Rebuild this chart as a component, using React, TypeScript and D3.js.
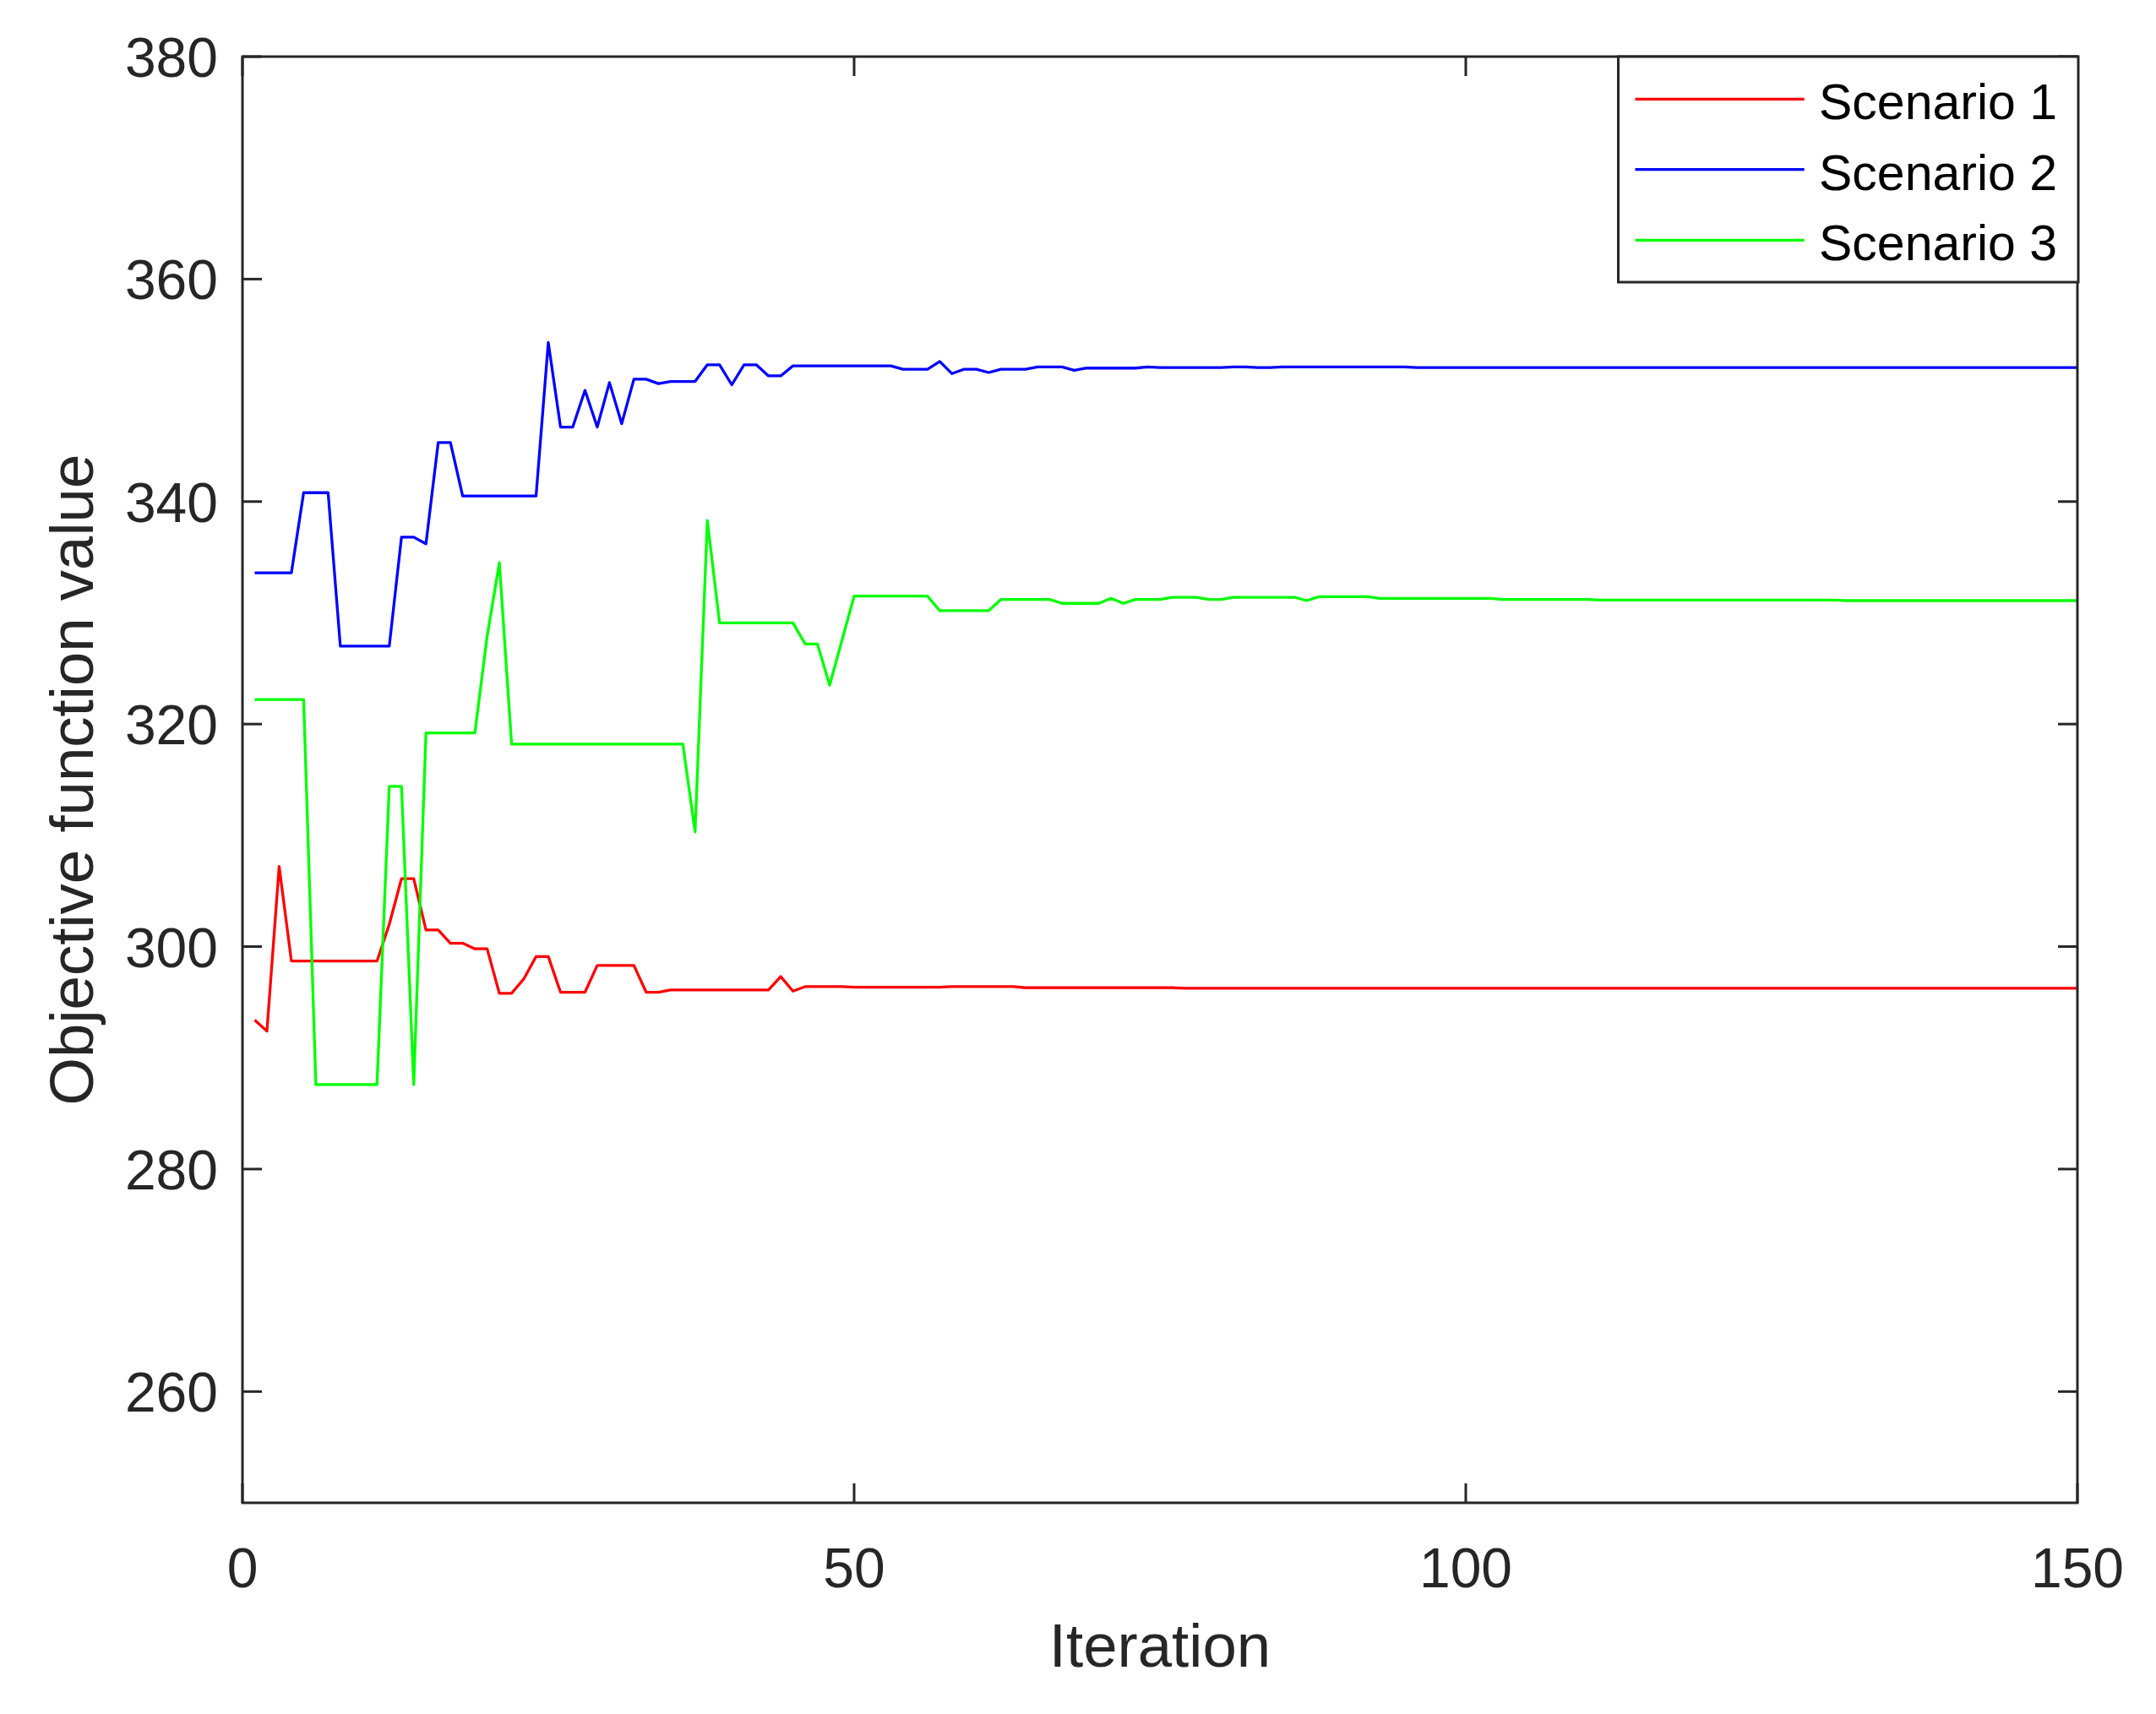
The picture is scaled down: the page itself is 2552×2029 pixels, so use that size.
import React, { useEffect } from "react";
import * as d3 from "d3";

// iterations 1..150
const scenario1 = [
  293.4, 292.4, 307.2, 298.7, 298.7, 298.7, 298.7, 298.7, 298.7, 298.7,
  298.7, 302.0, 306.1, 306.1, 301.5, 301.5, 300.3, 300.3, 299.8, 299.8,
  295.8, 295.8, 297.1, 299.1, 299.1, 295.9, 295.9, 295.9, 298.3, 298.3,
  298.3, 298.3, 295.9, 295.9, 296.1, 296.1, 296.1, 296.1, 296.1, 296.1,
  296.1, 296.1, 296.1, 297.3, 296.0, 296.4, 296.4, 296.4, 296.4, 296.35,
  296.35, 296.35, 296.35, 296.35, 296.35, 296.35, 296.35, 296.4, 296.4, 296.4,
  296.4, 296.4, 296.4, 296.3, 296.3, 296.3, 296.3, 296.3, 296.3, 296.3,
  296.3, 296.3, 296.3, 296.3, 296.3, 296.3, 296.25, 296.25, 296.25, 296.25,
  296.25, 296.25, 296.25, 296.25, 296.25, 296.25, 296.25, 296.25, 296.25, 296.25,
  296.25, 296.25, 296.25, 296.25, 296.25, 296.25, 296.25, 296.25, 296.25, 296.25,
  296.25, 296.25, 296.25, 296.25, 296.25, 296.25, 296.25, 296.25, 296.25, 296.25,
  296.25, 296.25, 296.25, 296.25, 296.25, 296.25, 296.25, 296.25, 296.25, 296.25,
  296.25, 296.25, 296.25, 296.25, 296.25, 296.25, 296.25, 296.25, 296.25, 296.25,
  296.25, 296.25, 296.25, 296.25, 296.25, 296.25, 296.25, 296.25, 296.25, 296.25,
  296.25, 296.25, 296.25, 296.25, 296.25, 296.25, 296.25, 296.25, 296.25, 296.25,
];

const scenario2 = [
  333.6, 333.6, 333.6, 333.6, 340.8, 340.8, 340.8, 327.0, 327.0, 327.0,
  327.0, 327.0, 336.8, 336.8, 336.2, 345.3, 345.3, 340.5, 340.5, 340.5,
  340.5, 340.5, 340.5, 340.5, 354.3, 346.7, 346.7, 350.0, 346.7, 350.7,
  347.0, 351.0, 351.0, 350.6, 350.8, 350.8, 350.8, 352.3, 352.3, 350.5,
  352.3, 352.3, 351.3, 351.3, 352.2, 352.2, 352.2, 352.2, 352.2, 352.2,
  352.2, 352.2, 352.2, 351.9, 351.9, 351.9, 352.6, 351.5, 351.9, 351.9,
  351.6, 351.9, 351.9, 351.9, 352.1, 352.1, 352.1, 351.8, 352.0, 352.0,
  352.0, 352.0, 352.0, 352.1, 352.05, 352.05, 352.05, 352.05, 352.05, 352.05,
  352.1, 352.1, 352.05, 352.05, 352.1, 352.1, 352.1, 352.1, 352.1, 352.1,
  352.1, 352.1, 352.1, 352.1, 352.1, 352.05, 352.05, 352.05, 352.05, 352.05,
  352.05, 352.05, 352.05, 352.05, 352.05, 352.05, 352.05, 352.05, 352.05, 352.05,
  352.05, 352.05, 352.05, 352.05, 352.05, 352.05, 352.05, 352.05, 352.05, 352.05,
  352.05, 352.05, 352.05, 352.05, 352.05, 352.05, 352.05, 352.05, 352.05, 352.05,
  352.05, 352.05, 352.05, 352.05, 352.05, 352.05, 352.05, 352.05, 352.05, 352.05,
  352.05, 352.05, 352.05, 352.05, 352.05, 352.05, 352.05, 352.05, 352.05, 352.05,
];

const scenario3 = [
  322.2, 322.2, 322.2, 322.2, 322.2, 287.6, 287.6, 287.6, 287.6, 287.6,
  287.6, 314.4, 314.4, 287.6, 319.2, 319.2, 319.2, 319.2, 319.2, 327.9,
  334.5, 318.2, 318.2, 318.2, 318.2, 318.2, 318.2, 318.2, 318.2, 318.2,
  318.2, 318.2, 318.2, 318.2, 318.2, 318.2, 310.3, 338.3, 329.1, 329.1,
  329.1, 329.1, 329.1, 329.1, 329.1, 327.2, 327.2, 323.5, 327.5, 331.5,
  331.5, 331.5, 331.5, 331.5, 331.5, 331.5, 330.2, 330.2, 330.2, 330.2,
  330.2, 331.2, 331.2, 331.2, 331.2, 331.2, 330.85, 330.85, 330.85, 330.85,
  331.3, 330.85, 331.2, 331.2, 331.2, 331.4, 331.4, 331.4, 331.2, 331.2,
  331.4, 331.4, 331.4, 331.4, 331.4, 331.4, 331.1, 331.45, 331.45, 331.45,
  331.45, 331.45, 331.3, 331.3, 331.3, 331.3, 331.3, 331.3, 331.3, 331.3,
  331.3, 331.3, 331.2, 331.2, 331.2, 331.2, 331.2, 331.2, 331.2, 331.2,
  331.15, 331.15, 331.15, 331.15, 331.15, 331.15, 331.15, 331.15, 331.15, 331.15,
  331.15, 331.15, 331.15, 331.15, 331.15, 331.15, 331.15, 331.15, 331.15, 331.15,
  331.1, 331.1, 331.1, 331.1, 331.1, 331.1, 331.1, 331.1, 331.1, 331.1,
  331.1, 331.1, 331.1, 331.1, 331.1, 331.1, 331.1, 331.1, 331.1, 331.1,
];

const seriesNames = ["Scenario 1", "Scenario 2", "Scenario 3"];
const seriesColors = ["#ff0000", "#0000ff", "#00ff00"];
const xTicks = [0, 50, 100, 150];
const yTicks = [260, 280, 300, 320, 340, 360, 380];

const W = 2552;
const H = 2029;
const margin = { left: 287, right: 2459, top: 67, bottom: 1779 };
const font = "'Liberation Sans', Arial, Helvetica, sans-serif";
const axisColor = "#262626";

export default function App() {
  useEffect(() => {
    document.body.style.margin = "0";
  }, []);

  const x = d3.scaleLinear().domain([0, 150]).range([margin.left, margin.right]);
  const y = d3.scaleLinear().domain([250, 380]).range([margin.bottom, margin.top]);

  const line = d3
    .line<number>()
    .x((d, i) => x(i + 1))
    .y((d) => y(d));

  const allSeries = [scenario1, scenario2, scenario3];
  const tickLen = 23;

  // legend box
  const lg = { x: 1915.5, y: 67, w: 544.5, h: 267 };
  const rows = [117.3, 200.7, 284.3];

  return (
    <svg width={W} height={H} style={{ display: "block", background: "#fff" }}>
      <rect x={0} y={0} width={W} height={H} fill="#fff" />

      {allSeries.map((s, i) => (
        <path
          key={seriesNames[i]}
          d={line(s) || ""}
          fill="none"
          stroke={seriesColors[i]}
          strokeWidth={3.3}
          strokeLinejoin="round"
        />
      ))}

      {/* ticks inside box, on all four sides */}
      {xTicks.map((t) => (
        <g key={"x" + t}>
          <line x1={x(t)} x2={x(t)} y1={margin.bottom} y2={margin.bottom - tickLen} stroke={axisColor} strokeWidth={3} />
          <line x1={x(t)} x2={x(t)} y1={margin.top} y2={margin.top + tickLen} stroke={axisColor} strokeWidth={3} />
          <text
            x={x(t)}
            y={1879}
            textAnchor="middle"
            fontFamily={font}
            fontSize={66}
            fill={axisColor}
          >
            {t}
          </text>
        </g>
      ))}
      {yTicks.map((t) => (
        <g key={"y" + t}>
          <line x1={margin.left} x2={margin.left + tickLen} y1={y(t)} y2={y(t)} stroke={axisColor} strokeWidth={3} />
          <line x1={margin.right} x2={margin.right - tickLen} y1={y(t)} y2={y(t)} stroke={axisColor} strokeWidth={3} />
          <text
            x={258}
            y={y(t) + 24}
            textAnchor="end"
            fontFamily={font}
            fontSize={66}
            fill={axisColor}
          >
            {t}
          </text>
        </g>
      ))}

      <rect
        x={margin.left}
        y={margin.top}
        width={margin.right - margin.left}
        height={margin.bottom - margin.top}
        fill="none"
        stroke={axisColor}
        strokeWidth={3}
      />

      <text
        x={(margin.left + margin.right) / 2}
        y={1973}
        textAnchor="middle"
        fontFamily={font}
        fontSize={72.6}
        fill={axisColor}
      >
        Iteration
      </text>
      <text
        transform={`translate(110, ${(margin.top + margin.bottom) / 2}) rotate(-90)`}
        textAnchor="middle"
        fontFamily={font}
        fontSize={72.6}
        fill={axisColor}
      >
        Objective function value
      </text>

      <rect x={lg.x} y={lg.y} width={lg.w} height={lg.h} fill="#fff" stroke={axisColor} strokeWidth={3} />
      {seriesNames.map((name, i) => (
        <g key={name}>
          <line x1={1935.5} x2={2135.7} y1={rows[i]} y2={rows[i]} stroke={seriesColors[i]} strokeWidth={3.3} />
          <text x={2153} y={rows[i] + 24} fontFamily={font} fontSize={59} fill="#000">
            {name}
          </text>
        </g>
      ))}
    </svg>
  );
}
